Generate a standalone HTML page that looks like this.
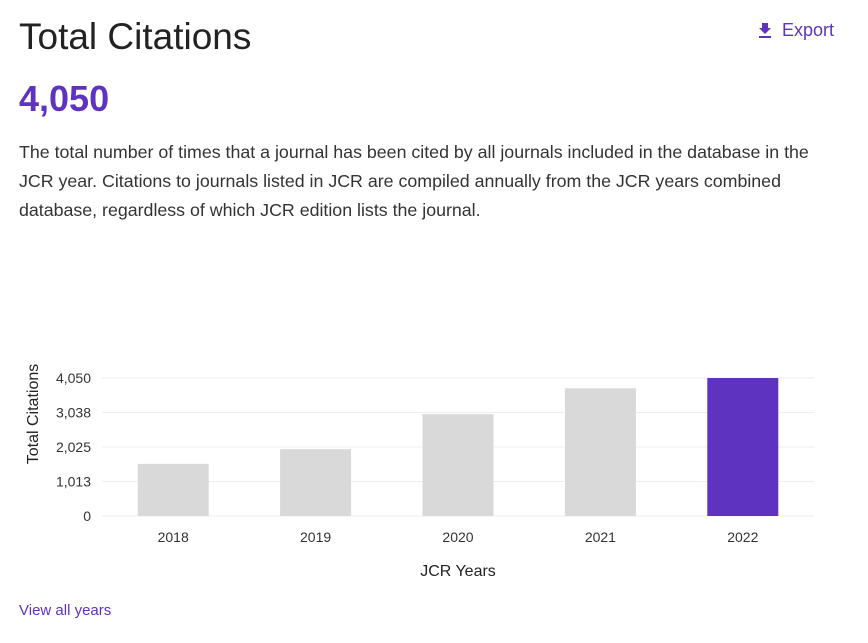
<!DOCTYPE html>
<html><head><meta charset="utf-8"><style>
body{margin:0;width:868px;height:643px;background:#fff;font-family:"Liberation Sans",sans-serif;color:#222;position:relative;overflow:hidden}
.a{position:absolute}
</style></head><body>
<div class="a" style="left:19px;top:16px;font-size:37px;color:#222">Total Citations</div>
<div class="a" style="left:758px;top:20px;font-size:18px;color:#5e33bf"><svg width="14" height="16" style="vertical-align:-2px"><path d="M4 1h6v5h3l-6 6-6-6h3z M1 14h12v2H1z" fill="#5e33bf"/></svg>&nbsp; Export</div>
<div class="a" style="left:19px;top:78px;font-size:36px;font-weight:bold;color:#5e33bf">4,050</div>
<div class="a" style="left:19px;top:138px;width:800px;font-size:17.8px;line-height:29px;color:#333">The total number of times that a journal has been cited by all journals included in the database in the JCR year. Citations to journals listed in JCR are compiled annually from the JCR years combined database, regardless of which JCR edition lists the journal.</div>
<svg class="a" style="left:0;top:0" width="868" height="643" id="chart"></svg>
<div class="a" style="left:19px;top:602px;font-size:15px;color:#5e33bf">View all years</div>
<script>
const categories=["2018","2019","2020","2021","2022"];
const values=[1530,1962,2990,3748,4050];
const ticks=[0,1013,2025,3038,4050];
const tickLabels=["0","1,013","2,025","3,038","4,050"];
const svg=document.getElementById('chart');
const NS='http://www.w3.org/2000/svg';
const x0=102,x1=814,yb=516,yt=378,maxV=4050;
const y=v=>yb-(v/maxV)*(yb-yt);
const band=(x1-x0)/categories.length;
const xc=i=>x0+band*(i+0.5);
function mk(t,a){const e=document.createElementNS(NS,t);for(const k in a)e.setAttribute(k,a[k]);svg.appendChild(e);return e;}
ticks.forEach((t,i)=>{
 const l=mk('line',{x1:x0,x2:x1,y1:y(t),y2:y(t),stroke:'#eee','stroke-width':1});
 
 
 const tx=mk('text',{x:91,y:y(t)+5,'text-anchor':'end','font-size':14,fill:'#333','font-family':'Liberation Sans, sans-serif'});
 tx.textContent=tickLabels[i];
 
 
});
categories.forEach((c,i)=>{
 const w=71;
 const r=mk('rect',{x:xc(i)-w/2,y:y(values[i]),width:w,height:yb-y(values[i]),fill:i===categories.length-1?'#5e33bf':'#d9d9d9'});
 
 
 const tx=mk('text',{x:xc(i),y:542,'text-anchor':'middle','font-size':14,fill:'#333','font-family':'Liberation Sans, sans-serif'});
 tx.textContent=c;
 
 
});
const xt=mk('text',{x:458,y:576,'text-anchor':'middle','font-size':16,fill:'#222','font-family':'Liberation Sans, sans-serif'});
xt.textContent='JCR Years';


const yt2=mk('text',{x:0,y:0,'text-anchor':'middle','font-size':16,fill:'#222','font-family':'Liberation Sans, sans-serif',transform:'translate(38,414) rotate(-90)'});
yt2.textContent='Total Citations';


</script>
</body></html>
